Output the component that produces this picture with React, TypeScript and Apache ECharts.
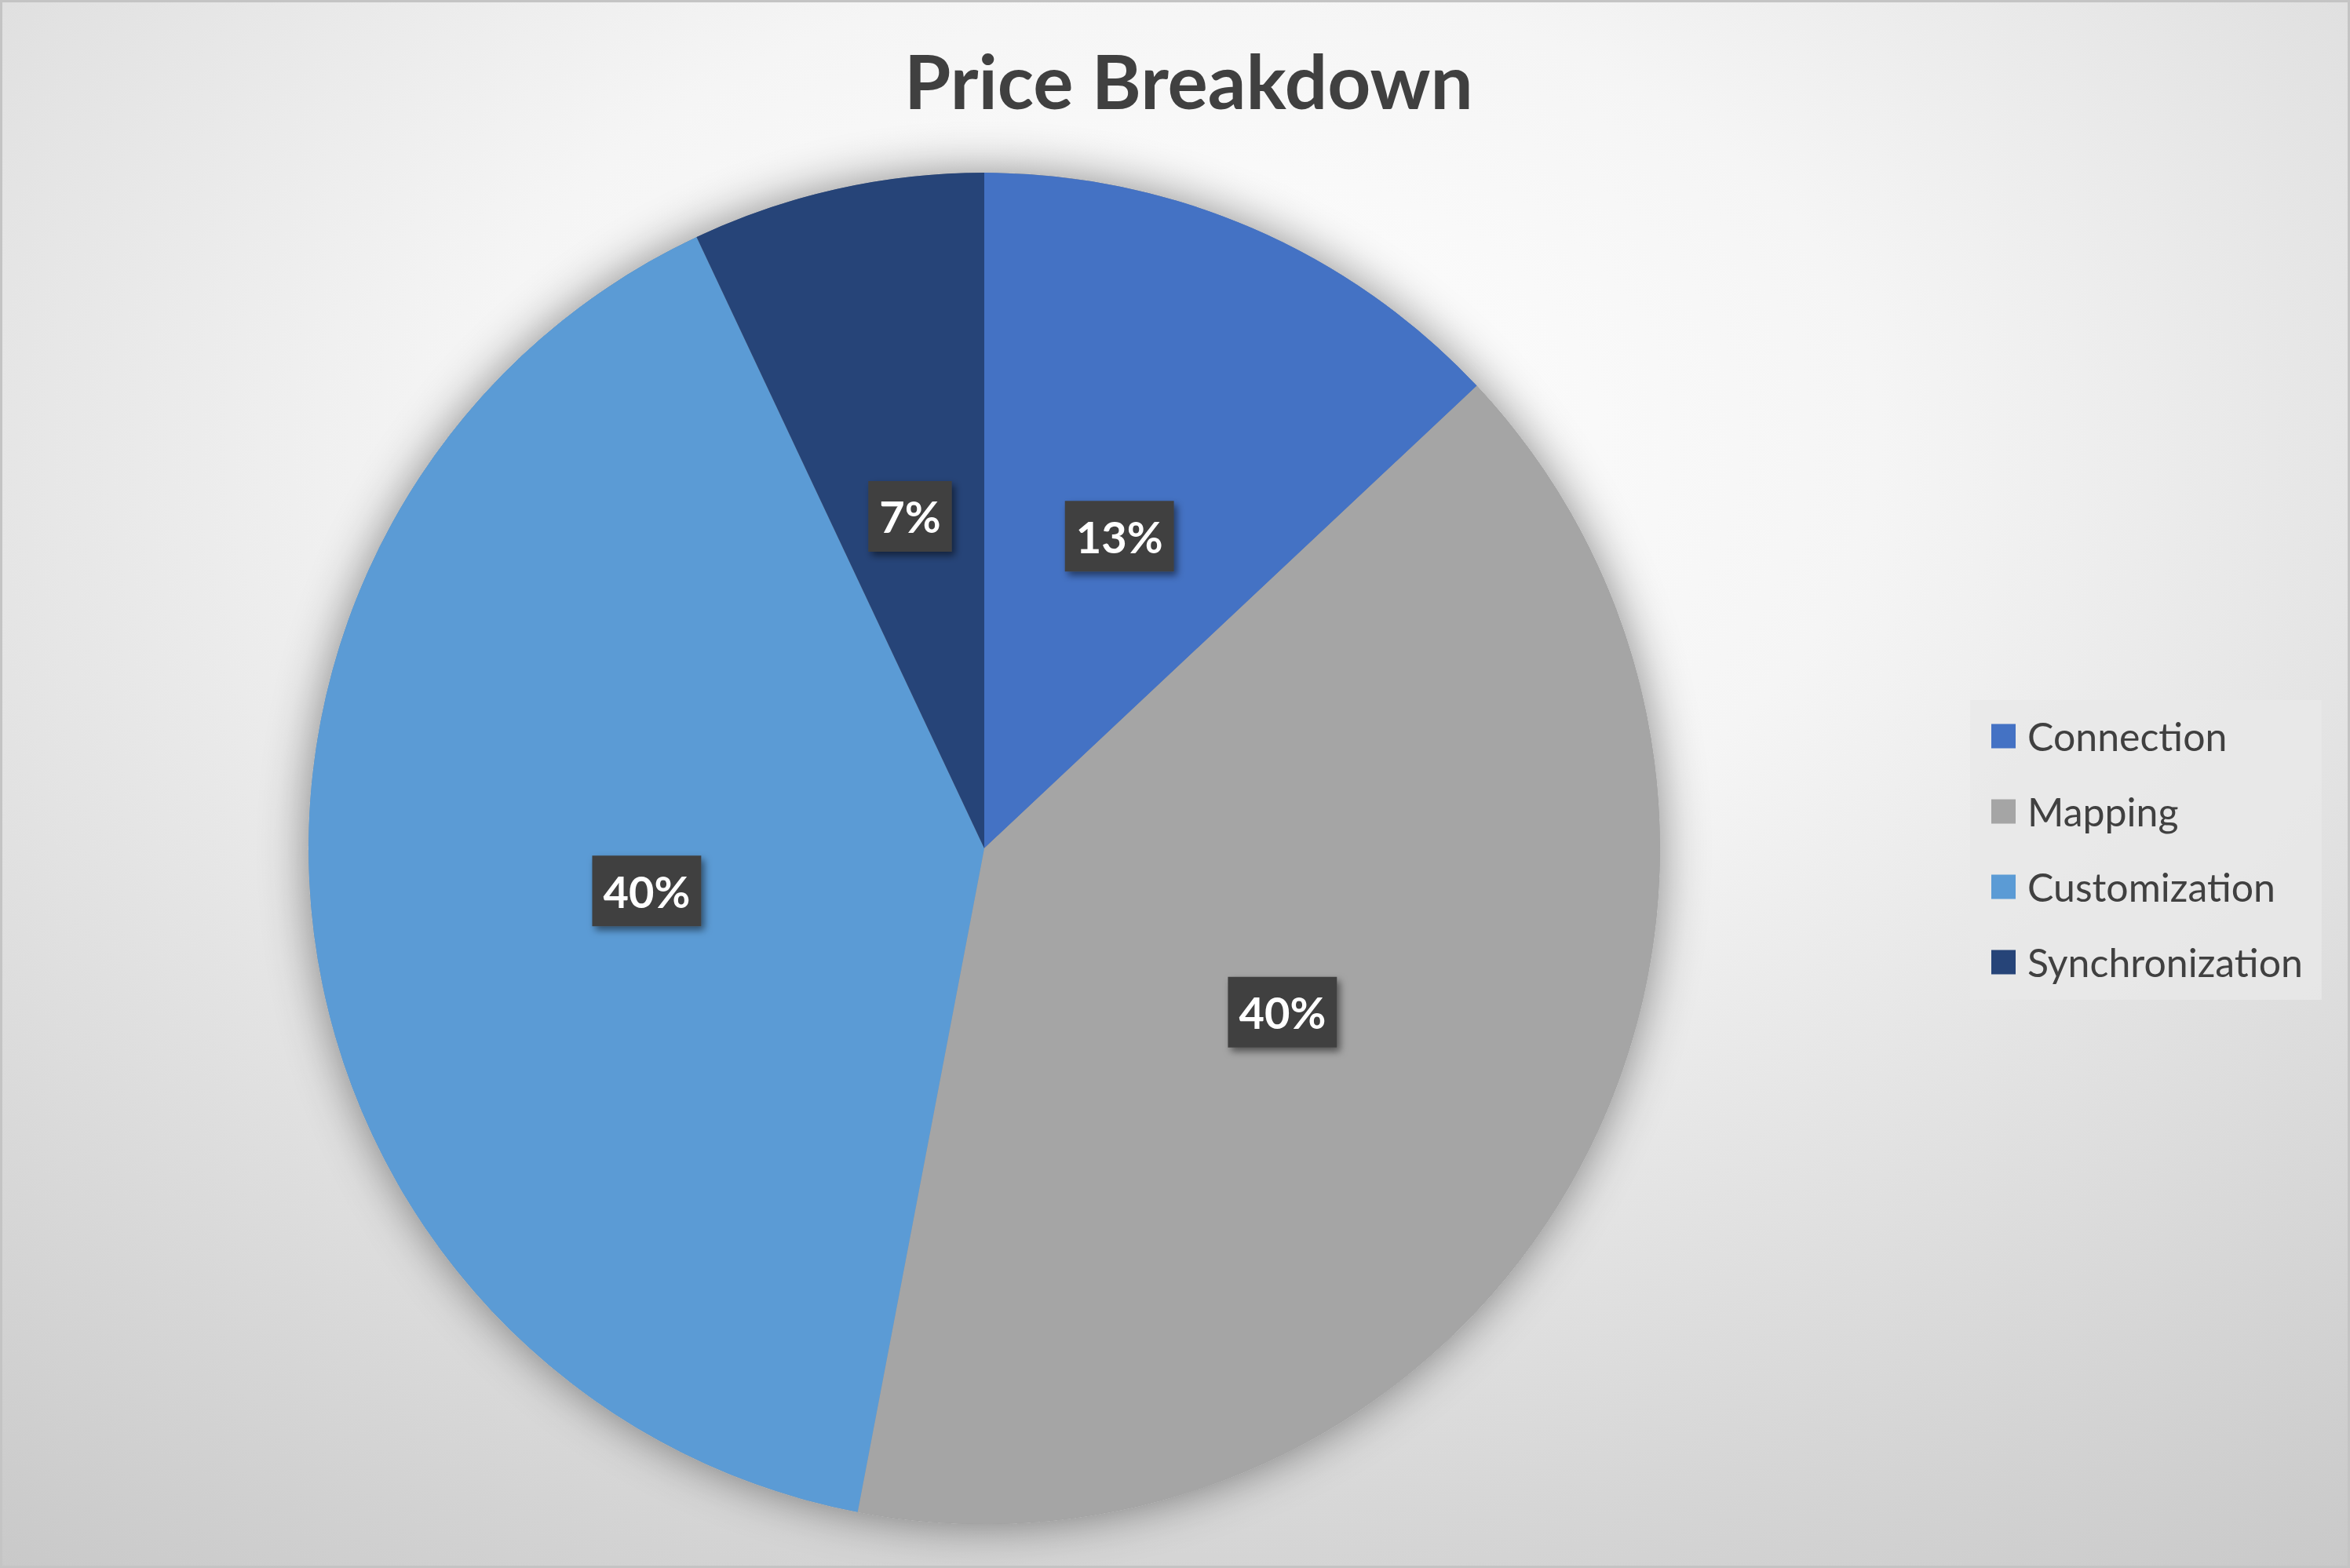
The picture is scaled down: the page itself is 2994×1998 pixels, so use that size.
import { useEffect, useRef } from 'react';
import * as echarts from 'echarts';

const chartTitle = 'Price Breakdown';
const categories = ['Connection', 'Mapping', 'Customization', 'Synchronization'];
const shares = [13, 40, 40, 7];
const sliceColors = ['#4472C4', '#A5A5A5', '#5B9BD5', '#264478'];

const FONT = 'Lato, "Open Sans", sans-serif';

export default function App() {
  const chartRef = useRef<HTMLDivElement>(null);

  useEffect(() => {
    document.body.style.margin = '0';
    if (!chartRef.current) return;
    const chart = echarts.init(chartRef.current, null, { renderer: 'svg' });

    const total = shares.reduce((a, b) => a + b, 0);
    const center = [1251, 1078];
    const radius = 861;

    const option: echarts.EChartsOption = {
      animation: false,
      backgroundColor: new echarts.graphic.RadialGradient(0.5, 0.28, 1.0, [
        { offset: 0, color: '#ffffff' },
        { offset: 0.3, color: '#f5f5f5' },
        { offset: 0.7, color: '#d6d6d6' },
        { offset: 1, color: '#c0c0c0' },
      ]),
      title: {
        text: chartTitle,
        left: 1149,
        top: 50,
        padding: 0,
        textStyle: { fontFamily: FONT, fontSize: 96, fontWeight: 'bold', color: '#404040', lineHeight: 96 },
      },
      legend: {
        data: categories,
        orient: 'vertical',
        left: 2507,
        top: 889,
        padding: [21, 24, 23, 27],
        backgroundColor: 'rgba(232,232,232,0.8)',
        itemWidth: 31,
        itemHeight: 31,
        itemGap: 46,
        icon: 'rect',
        selectedMode: false,
        textStyle: { fontFamily: FONT, fontSize: 50, color: '#404040', lineHeight: 50, padding: [0, 0, 0, 10] },
      },
      series: [
        {
          // soft drop shadow beneath the pie
          type: 'pie',
          name: 'shadow',
          silent: true,
          z: 1,
          center,
          radius,
          startAngle: 90,
          label: { show: false },
          labelLine: { show: false },
          data: [{ name: '', value: total }],
          itemStyle: { color: '#9a9a9a', shadowBlur: 60, shadowColor: 'rgba(0,0,0,0.45)' },
        },
        {
          type: 'pie',
          name: chartTitle,
          z: 2,
          center,
          radius,
          startAngle: 90,
          clockwise: true,
          avoidLabelOverlap: false,
          data: categories.map((name, i) => ({ name, value: shares[i], itemStyle: { color: sliceColors[i] } })),
          itemStyle: { borderWidth: 0 },
          label: {
            show: true,
            position: 'inside',
            formatter: (p: any) => `${Math.round(p.percent)}%`,
            fontFamily: FONT,
            fontSize: 56,
            fontWeight: 'bold',
            color: '#ffffff',
            lineHeight: 56,
            backgroundColor: '#404040',
            padding: [17, 14],
            shadowBlur: 10,
            shadowColor: 'rgba(0,0,0,0.5)',
            shadowOffsetX: 4,
            shadowOffsetY: 5,
          },
          labelLine: { show: false },
        },
      ],
    };

    chart.setOption(option);
    const handleResize = () => chart.resize();
    window.addEventListener('resize', handleResize);
    return () => {
      window.removeEventListener('resize', handleResize);
      chart.dispose();
    };
  }, []);

  return (
    <div
      ref={chartRef}
      style={{ width: '100vw', height: '100vh', boxSizing: 'border-box', border: '3px solid #c4c4c4' }}
    />
  );
}
